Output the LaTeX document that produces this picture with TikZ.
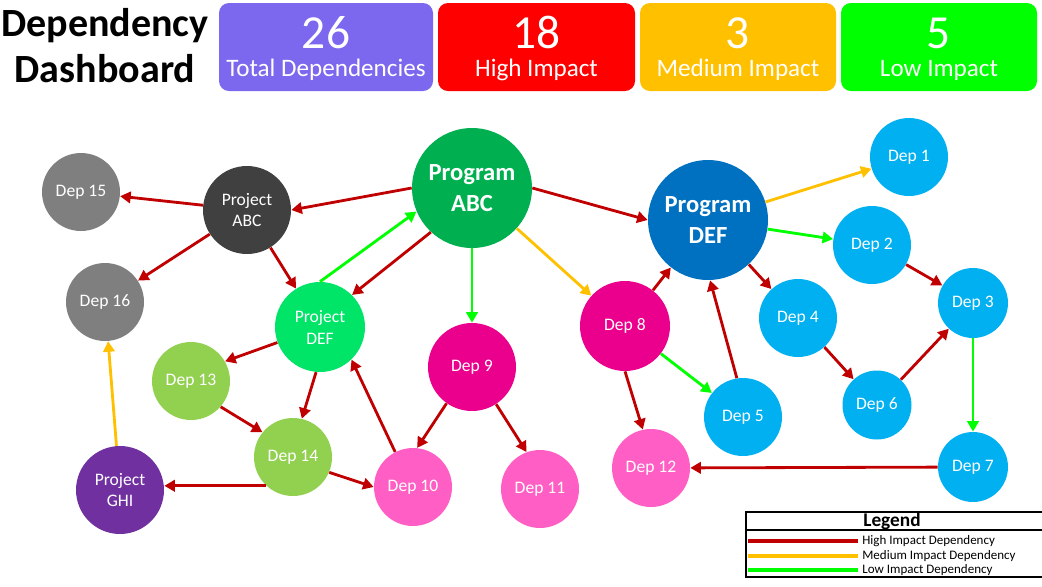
\documentclass[tikz,border=0pt]{standalone}
\usepackage{fontspec}
\setmainfont{Carlito}
\usetikzlibrary{arrows.meta}

\definecolor{hired}{RGB}{192,0,0}
\definecolor{medorange}{RGB}{255,192,0}
\definecolor{lowgreen}{RGB}{0,255,0}
\definecolor{boxpurple}{RGB}{123,104,238}
\definecolor{boxred}{RGB}{255,0,0}
\definecolor{depgray}{RGB}{127,127,127}
\definecolor{projgray}{RGB}{64,64,64}
\definecolor{progabc}{RGB}{0,176,80}
\definecolor{projdef}{RGB}{0,228,104}
\definecolor{limegr}{RGB}{146,208,80}
\definecolor{projghi}{RGB}{112,48,160}
\definecolor{depmag}{RGB}{234,0,140}
\definecolor{deppink}{RGB}{255,94,196}
\definecolor{progdef}{RGB}{0,112,192}
\definecolor{depblue}{RGB}{0,176,240}

\tikzset{
  dep/.style={circle,fill=#1,text=white,inner sep=0pt,align=center,
    minimum size=1.56cm,font=\fontsize{10}{12.5}\selectfont},
  prog/.style={dep=#1,minimum size=2.4cm,font=\fontsize{14}{17.5}\selectfont\bfseries},
  hi/.style={draw=hired,line width=1.6pt,-{Triangle[length=6pt,width=6.5pt]}},
  med/.style={hi,draw=medorange},
  low/.style={hi,draw=lowgreen},
  numtext/.style={anchor=base,text=white,font=\fontsize{27}{30}\selectfont},
  labtext/.style={anchor=base,text=white,font=\fontsize{14.3}{16}\selectfont}
}

\begin{document}
\begin{tikzpicture}[x=0.02cm,y=-0.02cm]
	\useasboundingbox (0,0) rectangle (1042,586);
	% title and counters
	\node[anchor=base,font=\fontsize{22.8}{25}\selectfont\bfseries] (title1) at (105,36) {Dependency};
	\node[anchor=base,font=\fontsize{22.8}{25}\selectfont\bfseries] (title2) at (105,82) {Dashboard};
	\foreach \xa/\xb/\col/\num/\lab/\nm in {219/433/boxpurple/26/Total Dependencies/tot,
			438/635/boxred/18/High Impact/high,
			640/836/medorange/3/Medium Impact/medium,
			841/1037/lowgreen/5/Low Impact/low} {
		\fill[\col,rounded corners=0.2cm] (\xa,3) rectangle (\xb,91);
		\node[numtext] (\nm-num) at ({(\xa+\xb)/2},48) {\num};
		\node[labtext] (\nm-lab) at ({(\xa+\xb)/2},76) {\lab};
	}

	% nodes
	\node[dep=depgray] (d15) at (81,192) {Dep 15};
	\node[dep=depgray] (d16) at (105,302) {Dep 16};
	\node[dep=projgray,minimum size=1.76cm] (prabc) at (247,210) {Project\\ABC};
	\node[prog=progabc] (pgabc) at (472,188) {Program\\ABC};
	\node[dep=projdef,minimum size=1.8cm] (prdef) at (320,327) {Project\\DEF};
	\node[dep=limegr] (d13) at (191,381) {Dep 13};
	\node[dep=limegr] (d14) at (293,457) {Dep 14};
	\node[dep=projghi,minimum size=1.76cm] (prghi) at (120,490) {Project\\GHI};
	\node[dep=depmag,minimum size=1.76cm] (d9) at (472,367) {Dep 9};
	\node[dep=deppink] (d10) at (413,487) {Dep 10};
	\node[dep=deppink] (d11) at (540,489) {Dep 11};
	\node[dep=depmag,minimum size=1.8cm] (d8) at (625,326) {Dep 8};
	\node[dep=deppink] (d12) at (651,468) {Dep 12};
	\node[prog=progdef] (pgdef) at (708,220) {Program\\DEF};
	\node[dep=depblue] (d1) at (909,157) {Dep 1};
	\node[dep=depblue] (d2) at (872,245) {Dep 2};
	\node[dep=depblue,minimum size=1.4cm] (d3) at (973,303) {Dep 3};
	\node[dep=depblue] (d4) at (798,318) {Dep 4};
	\node[dep=depblue] (d5) at (743,417) {Dep 5};
	\node[dep=depblue,minimum size=1.38cm] (d6) at (877,405) {Dep 6};
	\node[dep=depblue,minimum size=1.4cm] (d7) at (973,467) {Dep 7};

	% dependencies
	\draw[hi] (pgabc.west) -- (prabc.east);
	\draw[hi] (prabc) -- (d15);
	\draw[hi] (prabc) -- (d16);
	\draw[hi] (prabc) -- (prdef);
	\draw[low] (prdef.north) -- (pgabc.203);
	\draw[hi] (pgabc.227) -- (prdef.45);
	\draw[low] (pgabc) -- (d9);
	\draw[med] (pgabc) -- (d8);
	\draw[hi] (pgabc.east) -- (pgdef.west);
	\draw[hi] (d8) -- (pgdef);
	\draw[med] (pgdef) -- (d1);
	\draw[low] (pgdef) -- (d2);
	\draw[hi] (pgdef) -- (d4);
	\draw[hi] (d5.99) -- (pgdef.-88);
	\draw[low] (d8) -- (d5);
	\draw[hi] (d8.-90) -- (d12.102);
	\draw[hi] (d2) -- (d3);
	\draw[hi] (d4) -- (d6);
	\draw[hi] (d6) -- (d3);
	\draw[low] (d3) -- (d7);
	\draw[hi] (d7) -- (d12);
	\draw[hi] (prdef.200) -- (d13.30);
	\draw[hi] (prdef.265) -- (d14.77);
	\draw[hi] (d13.-41) -- (d14.141);
	\draw[hi] (d14.227) -- (d14.227 -| prghi.east);
	\draw[hi] (d14.-23) -- (d10.west);
	\draw[hi] (d10.117) -- (prdef.-46);
	\draw[hi] (d9.235) -- (d10.84);
	\draw[hi] (d9.-57) -- (d11.110);
	\draw[med] (prghi) -- (d16);

	% legend
	\draw[line width=0.8pt] (1044,512) -- (746,512) -- (746,577) -- (1044,577);
	\draw[line width=0.8pt] (746,530) -- (1044,530);
	\node[font=\fontsize{11}{13}\selectfont\bfseries] (legtitle) at (892,521) {Legend};
	\foreach \y/\col/\lab in {541/hired/High Impact Dependency,
			556/medorange/Medium Impact Dependency,
			570/lowgreen/Low Impact Dependency} {
		\draw[\col,line width=2.8pt] (748,\y) -- (858,\y);
		\node[anchor=west,inner sep=0pt,font=\fontsize{7.4}{9}\selectfont] (leg-\y) at (862,\y) {\lab};
	}
\end{tikzpicture}
\end{document}
